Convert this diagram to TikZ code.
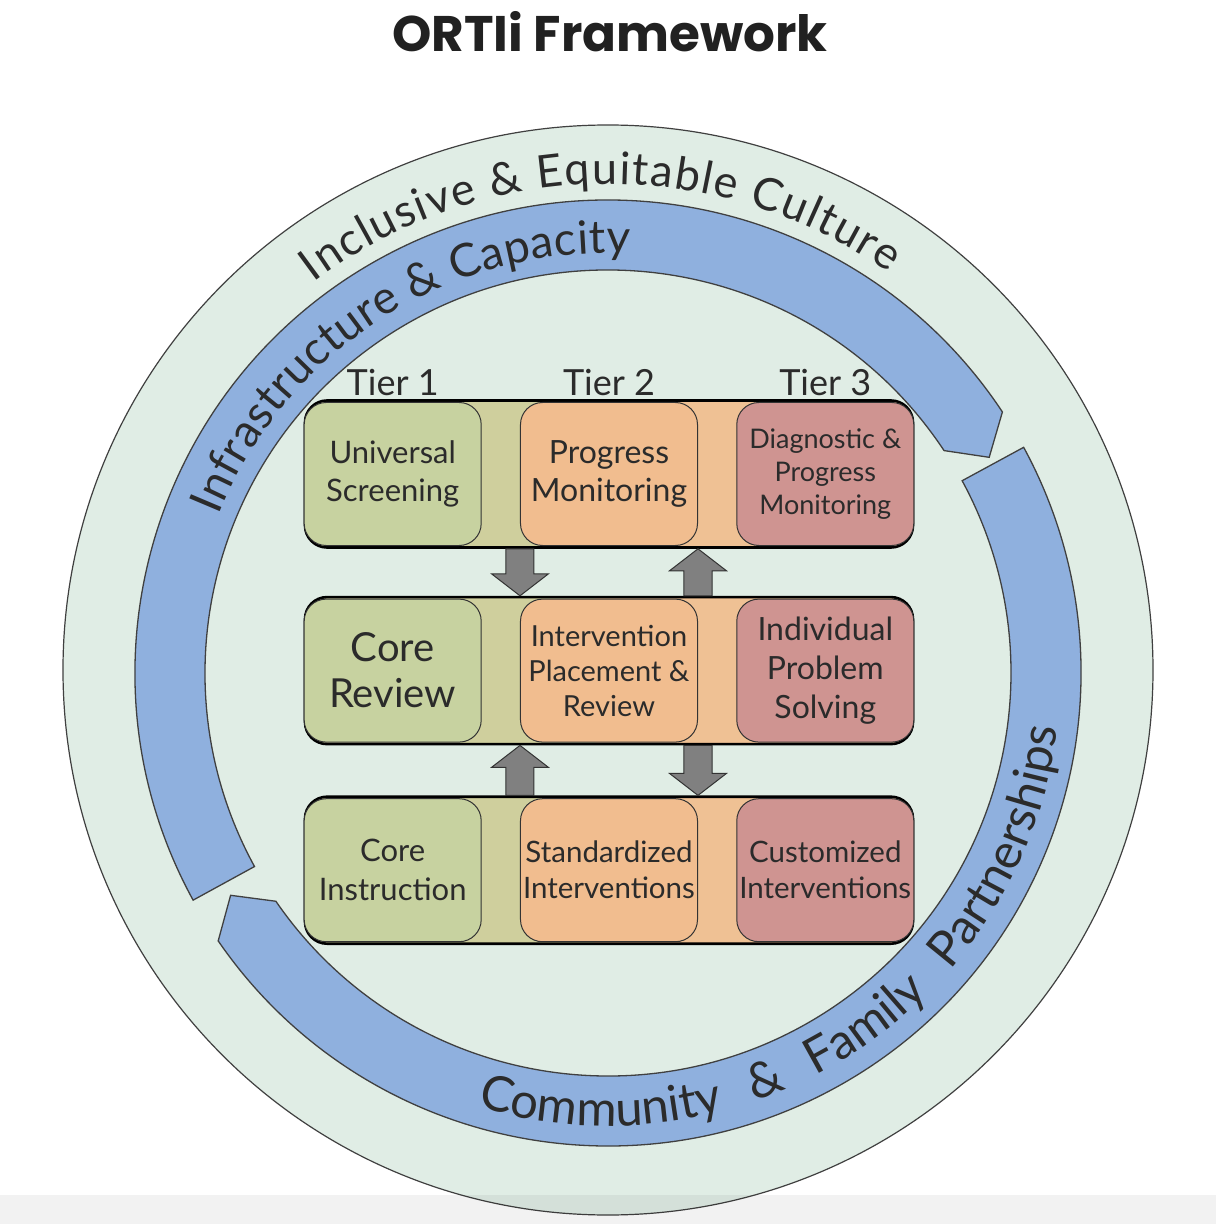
\documentclass[tikz,border=0pt]{standalone}
\usepackage{fontspec}
\setmainfont{Lato}
\newfontfamily\titlefont{Poppins}
\newfontfamily\ringfont{Lato}
\usetikzlibrary{positioning,calc,decorations.text}

\definecolor{ringbg}{HTML}{E0EDE5}
\definecolor{ringblue}{HTML}{8FB0DE}
\definecolor{tieronecol}{HTML}{C7D2A0}
\definecolor{tiertwocol}{HTML}{F1BD8F}
\definecolor{tierthreecol}{HTML}{CF9491}
\definecolor{gapone}{HTML}{CFCF9D}
\definecolor{gaptwo}{HTML}{EFC194}
\definecolor{inkgray}{HTML}{2B2B2B}

\tikzset{
band/.style={draw=black, line width=2.6pt, rounded corners=22pt,
	minimum width=608pt, minimum height=147pt, inner sep=0pt, fill=gaptwo,
	path picture={\fill[gapone] (path picture bounding box.south west)
		rectangle (path picture bounding box.north);}},
box/.style={draw=black!80, line width=1pt, rounded corners=22pt,
	minimum width=177pt, minimum height=143pt, inner sep=0pt, align=center,
	text=inkgray},
tier/.style={font=\fontsize{36}{36}\selectfont, text=inkgray, inner sep=0pt},
blockarr/.style={draw=black!80, line width=1pt, fill=black!50},
ringarrow/.style={draw=black!75, line width=1.3pt, fill=ringblue},
ringtext/.style={decorate, decoration={text along path, #1}}
}
\newcommand{\blockarrow}[2]{%
	\draw[blockarr] let \p1=(#1), \p2=(#2), \n1={sign(\y2-\y1)} in
	({\x1-14pt},\y1) -- ({\x1+14pt},\y1) -- ({\x2+14pt},{\y2-(\n1)*22pt})
	-- ({\x2+28.5pt},{\y2-(\n1)*22pt}) -- (\x2,\y2)
	-- ({\x2-28.5pt},{\y2-(\n1)*22pt}) -- ({\x2-14pt},{\y2-(\n1)*22pt}) -- cycle;}

\begin{document}
\begin{tikzpicture}[x=1pt, y=1pt, label distance=6pt]
	\fill[white] (-608,-551) rectangle (608,673);
	\useasboundingbox (-608,-551) rectangle (608,673);

	\node[font=\titlefont\bfseries\fontsize{50}{50}\selectfont, text=black!87] (title) at (2,641) {ORTIi Framework};

	% outer ring
	\coordinate (c) at (0,0);
	\draw[fill=ringbg, draw=black!75, line width=1.2pt] (0,3) circle[radius=545];
	\draw[ringarrow] (208.7:473) arc[start angle=208.7, end angle=33.5, radius=473]
		-- (29.5:438) -- (33.5:403) arc[start angle=33.5, end angle=208.7, radius=403] -- cycle;
	\draw[ringarrow] (28.5:473) arc[start angle=28.5, end angle=-145.5, radius=473]
		-- (-149.5:438) -- (-145.5:403) arc[start angle=-145.5, end angle=28.5, radius=403] -- cycle;

	\path[ringtext={text={|\ringfont\fontsize{45}{45}\selectfont\color{inkgray}|Inclusive {\&} Equitable Culture},
		text align={fit to path}}] (127:489) arc[start angle=127, end angle=55, radius=489];
	\path[ringtext={text={|\ringfont\fontsize{46}{46}\selectfont\color{inkgray}|Infrastructure {\&} Capacity},
		text align={fit to path}}] (158:420) arc[start angle=158, end angle=87, radius=420];
	\path[ringtext={text={|\ringfont\fontsize{49}{49}\selectfont\color{inkgray}|Community {\&} Family Partnerships},
		text align={fit to path stretching spaces}}] (-106.8:453) arc[start angle=-106.8, end angle=-6.9, radius=453];

	% tiers
	\node[band] (row1) at (1,199) {};
	\node[band, below=47pt of row1] (row2) {};
	\node[band, below=50pt of row2] (row3) {};

	\node[box, fill=tieronecol, anchor=west, font=\fontsize{31}{38}\selectfont,
		label={[tier]above:Tier 1}] (us) at (row1.west) {Universal\\Screening};
	\node[box, fill=tiertwocol, font=\fontsize{32}{38}\selectfont,
		label={[tier]above:Tier 2}] (pm) at (row1) {Progress\\Monitoring};
	\node[box, fill=tierthreecol, anchor=east, font=\fontsize{27}{33}\selectfont,
		label={[tier]above:Tier 3}] (dpm) at (row1.east) {Diagnostic \&\\Progress\\Monitoring};

	\node[box, fill=tieronecol, anchor=west, font=\fontsize{40}{46}\selectfont] (cr) at (row2.west) {Core\\Review};
	\node[box, fill=tiertwocol, font=\fontsize{29}{35}\selectfont] (ipr) at (row2) {Intervention\\Placement \&\\Review};
	\node[box, fill=tierthreecol, anchor=east, font=\fontsize{32}{39}\selectfont] (ips) at (row2.east) {Individual\\Problem\\Solving};

	\node[box, fill=tieronecol, anchor=west, font=\fontsize{31}{39}\selectfont] (ci) at (row3.west) {Core\\Instruction};
	\node[box, fill=tiertwocol, font=\fontsize{29.5}{36}\selectfont] (si) at (row3) {Standardized\\Interventions};
	\node[box, fill=tierthreecol, anchor=east, font=\fontsize{29.5}{36}\selectfont] (cui) at (row3.east) {Customized\\Interventions};

	\blockarrow{pm.west |- row1.south}{pm.west |- row2.north}
	\blockarrow{pm.east |- row2.north}{pm.east |- row1.south}
	\blockarrow{ipr.west |- row3.north}{ipr.west |- row2.south}
	\blockarrow{ipr.east |- row2.south}{ipr.east |- row3.north}

	\fill[black, opacity=0.05] (-608,-551) rectangle (608,-522);
\end{tikzpicture}
\end{document}
